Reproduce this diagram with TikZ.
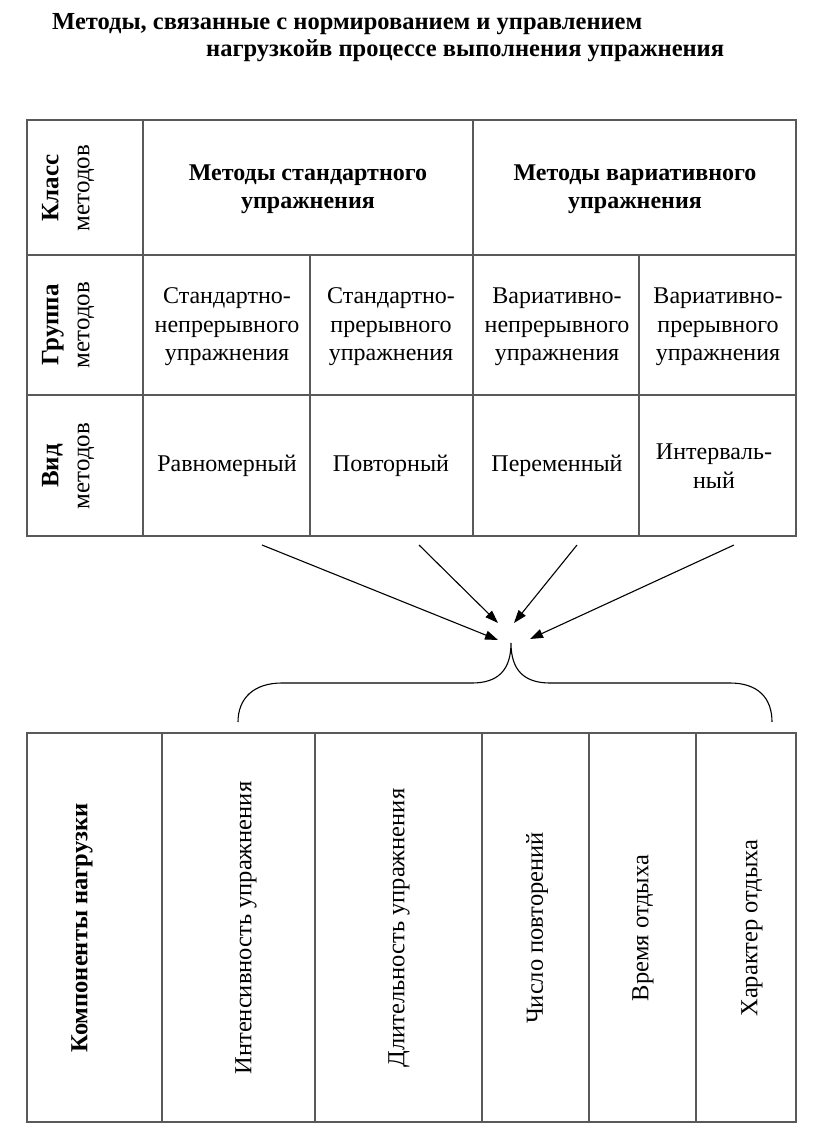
\documentclass[tikz,border=0pt]{standalone}
\usepackage{fontspec}
\setmainfont{Liberation Serif}
\usetikzlibrary{arrows.meta}

\begin{document}
\begin{tikzpicture}[x=1pt, y=-1pt, every node/.style={inner sep=0pt, align=center}]
\useasboundingbox (0,0) rectangle (816,1147);
\tikzset{grid/.style={draw=black!65, line width=1.1pt}}
\tikzset{txt/.style={font=\fontsize{24}{28.5}\selectfont}}
\tikzset{head/.style={font=\bfseries\fontsize{24}{28}\selectfont}}
\tikzset{side/.style={rotate=90, font=\fontsize{25}{31}\selectfont}}
\tikzset{comp/.style={rotate=90, font=\fontsize{24.5}{26}\selectfont}}
\tikzset{ttl/.style={anchor=base west, font=\bfseries\fontsize{24.5}{27}\selectfont}}

% title
\node[ttl] (title1) at (52,30) {Методы, связанные с нормированием и управлением};
\node[ttl] (title2) at (206,57) {нагрузкойв процессе выполнения упражнения};

% top table
\draw[grid] (27,120) rectangle (796,536);
\draw[grid] (27,255) -- (796,255);
\draw[grid] (27,395) -- (796,395);
\draw[grid] (143,120) -- (143,536);
\draw[grid] (473,120) -- (473,536);
\draw[grid] (310,255) -- (310,536);
\draw[grid] (639,255) -- (639,536);

\node[side] (klass) at (68,188) {\textbf{Класс}\\методов};
\node[side] (gruppa) at (68,325) {\textbf{Группа}\\методов};
\node[side] (vid) at (68,466) {\textbf{Вид}\\методов};

\node[head] (std) at (308,189) {Методы стандартного\\упражнения};
\node[head] (var) at (635,189) {Методы вариативного\\упражнения};

\node[txt] (g1) at (227,327) {Стандартно-\\непрерывного\\упражнения};
\node[txt] (g2) at (391,327) {Стандартно-\\прерывного\\упражнения};
\node[txt] (g3) at (557,327) {Вариативно-\\непрерывного\\упражнения};
\node[txt] (g4) at (718,327) {Вариативно-\\прерывного\\упражнения};

\node[txt] (v1) at (227,466) {Равномерный};
\node[txt] (v2) at (391,466) {Повторный};
\node[txt] (v3) at (557,466) {Переменный};
\node[txt] (v4) at (714,466) {Интерваль-\\ный};

% arrows
\tikzset{arr/.style={-{Triangle[length=13pt,width=9pt]}, line width=1.1pt}}
\coordinate (s1) at (262,545);
\coordinate (s2) at (419,545);
\coordinate (s3) at (577,545);
\coordinate (s4) at (734,545);
\coordinate (e1) at (498,640);
\coordinate (e2) at (498,623);
\coordinate (e3) at (514,623);
\coordinate (e4) at (530,639);
\path (s1) edge [arr] (e1);
\path (s2) edge [arr] (e2);
\path (s3) edge [arr] (e3);
\path (s4) edge [arr] (e4);

% brace
\coordinate (tip) at (511,643);
\coordinate (bl) at (238,722);
\coordinate (br) at (772,722);
\draw[line width=1.1pt] (bl) .. controls (238,698) and (254,683) .. (282,683)
  -- (472,683) .. controls (498,683) and (511,670) .. (tip)
  .. controls (511,670) and (524,683) .. (550,683)
  -- (730,683) .. controls (758,683) and (772,698) .. (br);

% bottom table
\draw[grid] (27,733) rectangle (796,1122);
\foreach \x in {162,315,482,589,696}
  \draw[grid] (\x,733) -- (\x,1122);

\node[comp, font=\bfseries\fontsize{24.5}{26}\selectfont] (komp) at (82,928) {Компоненты нагрузки};
\node[comp] (intens) at (246,928) {Интенсивность упражнения};
\node[comp] (dlit) at (399,928) {Длительность упражнения};
\node[comp] (chislo) at (537,928) {Число повторений};
\node[comp] (vremya) at (643,928) {Время отдыха};
\node[comp] (harakter) at (752,928) {Характер отдыха};
\end{tikzpicture}
\end{document}
